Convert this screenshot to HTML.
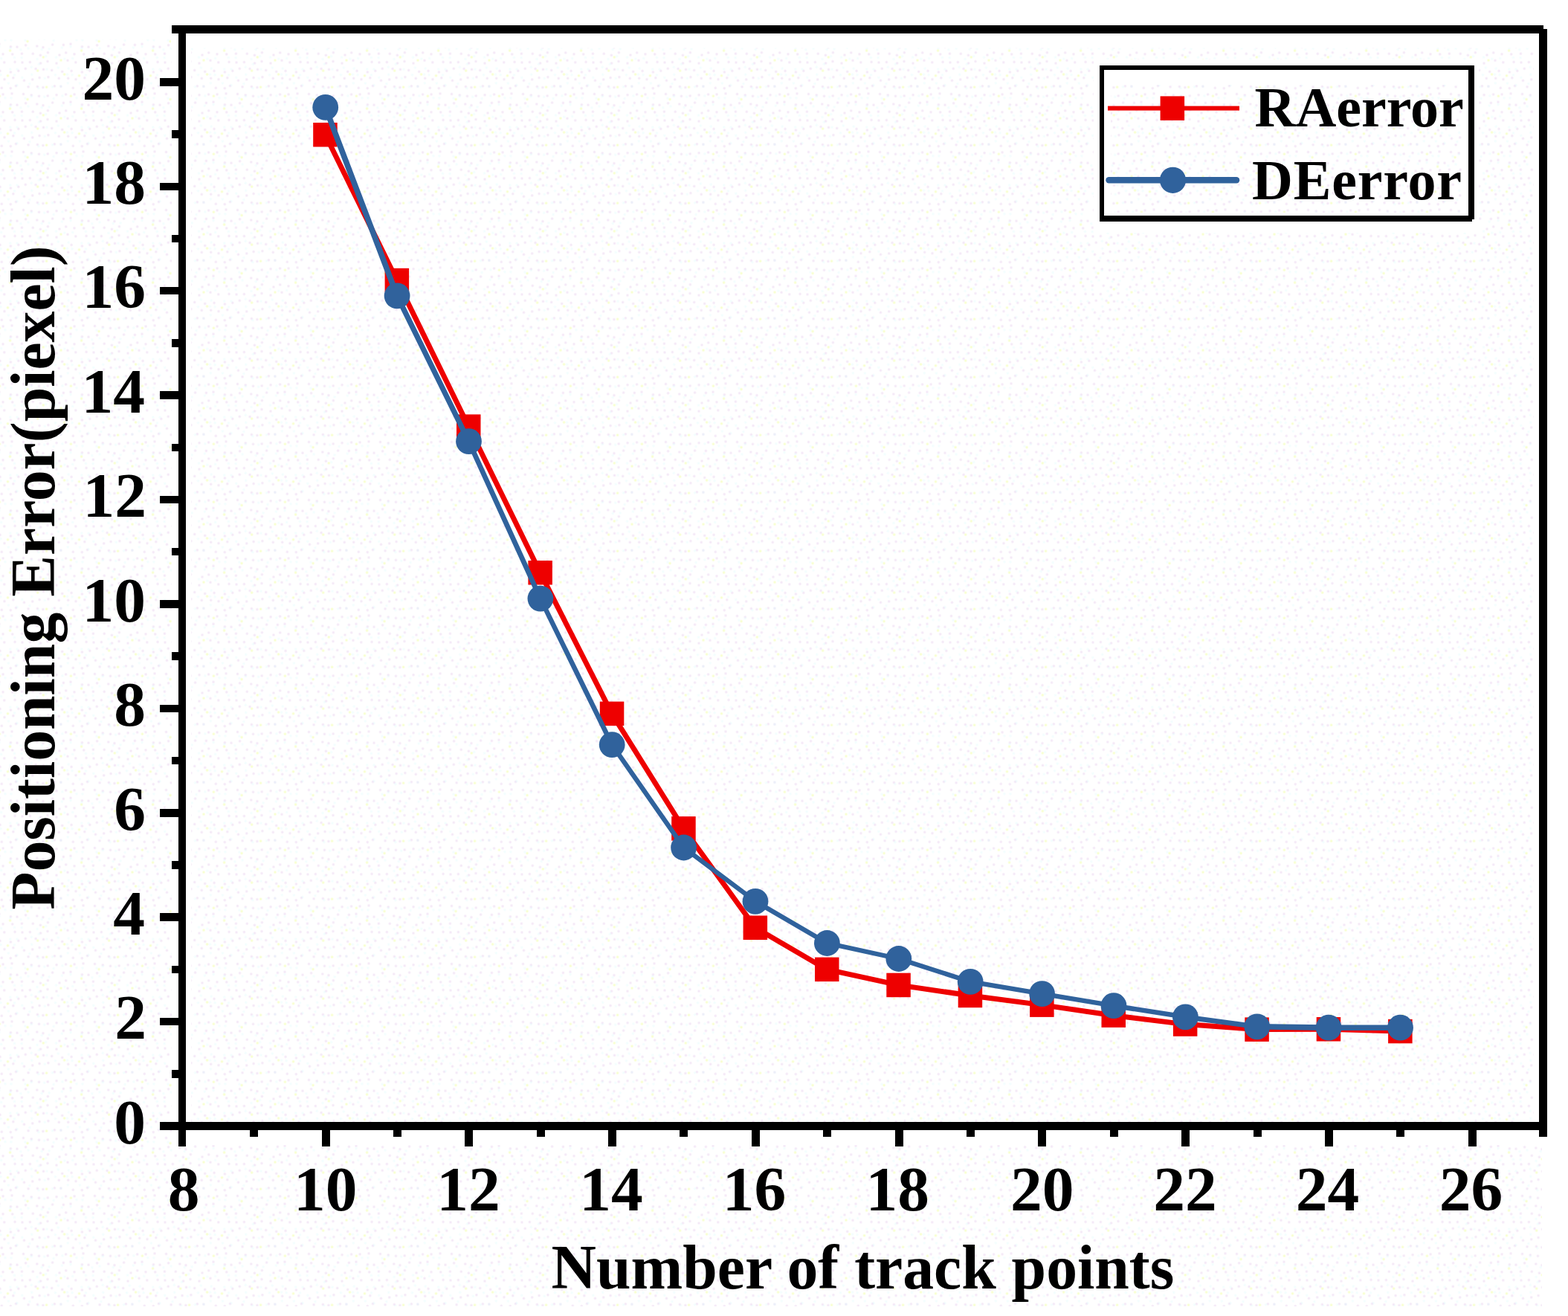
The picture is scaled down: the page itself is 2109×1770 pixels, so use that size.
<!DOCTYPE html>
<html lang="en"><head><meta charset="utf-8"><title>Positioning Error vs Number of track points</title>
<style>html,body{margin:0;padding:0;background:#fff;}body{width:2109px;height:1770px;overflow:hidden;}svg{display:block;}text{font-family:'Liberation Serif', 'DejaVu Serif', serif;font-weight:bold;fill:#000;}</style>
</head><body>
<svg width="2109" height="1770" viewBox="0 0 2109 1770">
<defs>
<radialGradient id="gm"><stop offset="0" stop-color="#e3c6ea" stop-opacity="0.5"/><stop offset="0.45" stop-color="#e3c6ea" stop-opacity="0.275"/><stop offset="1" stop-color="#e3c6ea" stop-opacity="0"/></radialGradient>
<radialGradient id="gc"><stop offset="0" stop-color="#d8fbfc" stop-opacity="0.38"/><stop offset="0.45" stop-color="#d8fbfc" stop-opacity="0.20900000000000002"/><stop offset="1" stop-color="#d8fbfc" stop-opacity="0"/></radialGradient>
<radialGradient id="gy"><stop offset="0" stop-color="#e9ff6a" stop-opacity="0.4"/><stop offset="0.45" stop-color="#e9ff6a" stop-opacity="0.22000000000000003"/><stop offset="1" stop-color="#e9ff6a" stop-opacity="0"/></radialGradient>
<pattern id="dots" width="96" height="78" patternUnits="userSpaceOnUse">
<rect width="96" height="78" fill="#fff"/>
<circle cx="5.8" cy="5.9" r="2.6" fill="url(#gm)"/>
<circle cx="20.1" cy="5.4" r="2.6" fill="url(#gm)"/>
<circle cx="30.0" cy="6.0" r="2.6" fill="url(#gm)"/>
<circle cx="40.4" cy="5.6" r="2.6" fill="url(#gm)"/>
<circle cx="54.6" cy="7.0" r="2.6" fill="url(#gm)"/>
<circle cx="64.0" cy="4.6" r="2.6" fill="url(#gm)"/>
<circle cx="76.0" cy="7.1" r="2.6" fill="url(#gm)"/>
<circle cx="91.0" cy="3.3" r="2.6" fill="url(#gm)"/>
<circle cx="14.4" cy="19.0" r="2.6" fill="url(#gm)"/>
<circle cx="24.8" cy="17.3" r="2.6" fill="url(#gm)"/>
<circle cx="34.3" cy="14.3" r="2.6" fill="url(#gm)"/>
<circle cx="48.1" cy="14.5" r="2.6" fill="url(#gm)"/>
<circle cx="58.5" cy="15.4" r="2.6" fill="url(#gm)"/>
<circle cx="69.7" cy="16.5" r="2.6" fill="url(#gm)"/>
<circle cx="83.7" cy="18.4" r="2.6" fill="url(#gm)"/>
<circle cx="0.1" cy="17.4" r="2.6" fill="url(#gm)"/>
<circle cx="96.1" cy="17.4" r="2.6" fill="url(#gm)"/>
<circle cx="6.0" cy="28.7" r="2.6" fill="url(#gm)"/>
<circle cx="17.8" cy="26.7" r="2.6" fill="url(#gm)"/>
<circle cx="32.5" cy="30.3" r="2.6" fill="url(#gm)"/>
<circle cx="43.7" cy="28.9" r="2.6" fill="url(#gm)"/>
<circle cx="53.1" cy="26.5" r="2.6" fill="url(#gm)"/>
<circle cx="64.9" cy="25.7" r="2.6" fill="url(#gm)"/>
<circle cx="79.3" cy="27.4" r="2.6" fill="url(#gm)"/>
<circle cx="91.7" cy="27.3" r="2.6" fill="url(#gm)"/>
<circle cx="14.3" cy="40.7" r="2.6" fill="url(#gm)"/>
<circle cx="21.5" cy="37.5" r="2.6" fill="url(#gm)"/>
<circle cx="38.1" cy="38.8" r="2.6" fill="url(#gm)"/>
<circle cx="50.4" cy="38.5" r="2.6" fill="url(#gm)"/>
<circle cx="57.9" cy="39.6" r="2.6" fill="url(#gm)"/>
<circle cx="73.4" cy="37.8" r="2.6" fill="url(#gm)"/>
<circle cx="81.9" cy="38.2" r="2.6" fill="url(#gm)"/>
<circle cx="2.3" cy="40.3" r="2.6" fill="url(#gm)"/>
<circle cx="98.3" cy="40.3" r="2.6" fill="url(#gm)"/>
<circle cx="4.1" cy="48.9" r="2.6" fill="url(#gm)"/>
<circle cx="16.0" cy="47.9" r="2.6" fill="url(#gm)"/>
<circle cx="31.5" cy="48.5" r="2.6" fill="url(#gm)"/>
<circle cx="42.3" cy="49.9" r="2.6" fill="url(#gm)"/>
<circle cx="52.5" cy="51.3" r="2.6" fill="url(#gm)"/>
<circle cx="64.2" cy="50.9" r="2.6" fill="url(#gm)"/>
<circle cx="76.1" cy="49.7" r="2.6" fill="url(#gm)"/>
<circle cx="88.6" cy="49.0" r="2.6" fill="url(#gm)"/>
<circle cx="14.4" cy="62.8" r="2.6" fill="url(#gm)"/>
<circle cx="23.0" cy="63.2" r="2.6" fill="url(#gm)"/>
<circle cx="34.6" cy="60.8" r="2.6" fill="url(#gm)"/>
<circle cx="49.8" cy="62.0" r="2.6" fill="url(#gm)"/>
<circle cx="58.0" cy="63.7" r="2.6" fill="url(#gm)"/>
<circle cx="70.6" cy="60.1" r="2.6" fill="url(#gm)"/>
<circle cx="85.4" cy="60.4" r="2.6" fill="url(#gm)"/>
<circle cx="-1.0" cy="59.2" r="2.6" fill="url(#gm)"/>
<circle cx="95.0" cy="59.2" r="2.6" fill="url(#gm)"/>
<circle cx="4.0" cy="72.8" r="2.6" fill="url(#gm)"/>
<circle cx="16.7" cy="72.9" r="2.6" fill="url(#gm)"/>
<circle cx="29.4" cy="72.2" r="2.6" fill="url(#gm)"/>
<circle cx="44.3" cy="72.3" r="2.6" fill="url(#gm)"/>
<circle cx="54.4" cy="74.3" r="2.6" fill="url(#gm)"/>
<circle cx="64.4" cy="70.7" r="2.6" fill="url(#gm)"/>
<circle cx="80.0" cy="74.0" r="2.6" fill="url(#gm)"/>
<circle cx="88.7" cy="70.9" r="2.6" fill="url(#gm)"/>
<circle cx="13.8" cy="15.0" r="2.6" fill="url(#gc)"/>
<circle cx="23.1" cy="15.1" r="2.6" fill="url(#gc)"/>
<circle cx="42.3" cy="12.3" r="2.6" fill="url(#gc)"/>
<circle cx="52.4" cy="8.3" r="2.6" fill="url(#gc)"/>
<circle cx="63.0" cy="15.2" r="2.6" fill="url(#gc)"/>
<circle cx="78.3" cy="13.1" r="2.6" fill="url(#gc)"/>
<circle cx="92.2" cy="14.1" r="2.6" fill="url(#gc)"/>
<circle cx="19.5" cy="22.8" r="2.6" fill="url(#gc)"/>
<circle cx="29.8" cy="26.3" r="2.6" fill="url(#gc)"/>
<circle cx="42.7" cy="22.3" r="2.6" fill="url(#gc)"/>
<circle cx="60.3" cy="27.3" r="2.6" fill="url(#gc)"/>
<circle cx="74.5" cy="22.7" r="2.6" fill="url(#gc)"/>
<circle cx="90.6" cy="22.1" r="2.6" fill="url(#gc)"/>
<circle cx="1.1" cy="22.7" r="2.6" fill="url(#gc)"/>
<circle cx="97.1" cy="22.7" r="2.6" fill="url(#gc)"/>
<circle cx="11.4" cy="34.0" r="2.6" fill="url(#gc)"/>
<circle cx="23.0" cy="36.5" r="2.6" fill="url(#gc)"/>
<circle cx="39.9" cy="34.6" r="2.6" fill="url(#gc)"/>
<circle cx="51.9" cy="40.6" r="2.6" fill="url(#gc)"/>
<circle cx="70.6" cy="38.8" r="2.6" fill="url(#gc)"/>
<circle cx="82.0" cy="38.2" r="2.6" fill="url(#gc)"/>
<circle cx="91.3" cy="33.8" r="2.6" fill="url(#gc)"/>
<circle cx="14.9" cy="53.8" r="2.6" fill="url(#gc)"/>
<circle cx="34.0" cy="54.2" r="2.6" fill="url(#gc)"/>
<circle cx="42.3" cy="51.6" r="2.6" fill="url(#gc)"/>
<circle cx="59.7" cy="52.3" r="2.6" fill="url(#gc)"/>
<circle cx="72.1" cy="54.5" r="2.6" fill="url(#gc)"/>
<circle cx="83.9" cy="50.9" r="2.6" fill="url(#gc)"/>
<circle cx="6.9" cy="53.7" r="2.6" fill="url(#gc)"/>
<circle cx="13.8" cy="65.1" r="2.6" fill="url(#gc)"/>
<circle cx="27.9" cy="66.8" r="2.6" fill="url(#gc)"/>
<circle cx="38.1" cy="65.0" r="2.6" fill="url(#gc)"/>
<circle cx="56.2" cy="66.5" r="2.6" fill="url(#gc)"/>
<circle cx="66.1" cy="65.8" r="2.6" fill="url(#gc)"/>
<circle cx="83.3" cy="64.1" r="2.6" fill="url(#gc)"/>
<circle cx="-0.9" cy="62.6" r="2.6" fill="url(#gc)"/>
<circle cx="95.1" cy="62.6" r="2.6" fill="url(#gc)"/>
<circle cx="19.4" cy="-0.6" r="2.6" fill="url(#gc)"/>
<circle cx="19.4" cy="77.4" r="2.6" fill="url(#gc)"/>
<circle cx="29.1" cy="-0.4" r="2.6" fill="url(#gc)"/>
<circle cx="29.1" cy="77.6" r="2.6" fill="url(#gc)"/>
<circle cx="50.1" cy="1.5" r="2.6" fill="url(#gc)"/>
<circle cx="50.1" cy="79.5" r="2.6" fill="url(#gc)"/>
<circle cx="61.7" cy="-2.4" r="2.6" fill="url(#gc)"/>
<circle cx="61.7" cy="75.6" r="2.6" fill="url(#gc)"/>
<circle cx="75.5" cy="-0.9" r="2.6" fill="url(#gc)"/>
<circle cx="75.5" cy="77.1" r="2.6" fill="url(#gc)"/>
<circle cx="86.8" cy="1.2" r="2.6" fill="url(#gc)"/>
<circle cx="86.8" cy="79.2" r="2.6" fill="url(#gc)"/>
<circle cx="1.7" cy="0.5" r="2.6" fill="url(#gc)"/>
<circle cx="1.7" cy="78.5" r="2.6" fill="url(#gc)"/>
<circle cx="97.7" cy="0.5" r="2.6" fill="url(#gc)"/>
<circle cx="97.7" cy="78.5" r="2.6" fill="url(#gc)"/>
<circle cx="10.5" cy="23.8" r="2.6" fill="url(#gy)"/>
<circle cx="50.7" cy="17.1" r="2.6" fill="url(#gy)"/>
<circle cx="86.6" cy="22.0" r="2.6" fill="url(#gy)"/>
<circle cx="37.1" cy="55.6" r="2.6" fill="url(#gy)"/>
<circle cx="62.6" cy="39.2" r="2.6" fill="url(#gy)"/>
<circle cx="-0.6" cy="51.2" r="2.6" fill="url(#gy)"/>
<circle cx="95.4" cy="51.2" r="2.6" fill="url(#gy)"/>
<circle cx="13.6" cy="68.1" r="2.6" fill="url(#gy)"/>
<circle cx="58.3" cy="-1.1" r="2.6" fill="url(#gy)"/>
<circle cx="58.3" cy="76.9" r="2.6" fill="url(#gy)"/>
<circle cx="82.0" cy="3.1" r="2.6" fill="url(#gy)"/>
</pattern></defs>
<rect x="0" y="0" width="2109" height="1770" fill="#fff"/>
<rect x="0" y="53" width="2074" height="1704" fill="url(#dots)"/>
<g fill="#fff">
<rect x="230" y="45" width="1844" height="19.5"/>
<rect x="231" y="64" width="26" height="1476"/>
<rect x="2063" y="45" width="11" height="1495"/>
<rect x="231" y="1520" width="1843" height="20"/>
<rect x="1471" y="80" width="518" height="233"/>
</g>
<rect x="1494" y="114" width="472" height="172" fill="url(#dots)"/>
<g fill="#000" shape-rendering="crispEdges">
<rect x="231" y="34" width="1845" height="11"/>
<rect x="2070" y="39" width="11" height="1489.5"/>
<rect x="240" y="34" width="10" height="1508"/>
<rect x="215" y="1509" width="1866" height="11"/>
<rect x="336.1" y="1515" width="11" height="13.5"/>
<rect x="432.5" y="1515" width="11" height="27"/>
<rect x="528.9" y="1515" width="11" height="13.5"/>
<rect x="625.3" y="1515" width="11" height="27"/>
<rect x="721.6" y="1515" width="11" height="13.5"/>
<rect x="818.0" y="1515" width="11" height="27"/>
<rect x="914.4" y="1515" width="11" height="13.5"/>
<rect x="1010.8" y="1515" width="11" height="27"/>
<rect x="1107.2" y="1515" width="11" height="13.5"/>
<rect x="1203.6" y="1515" width="11" height="27"/>
<rect x="1300.0" y="1515" width="11" height="13.5"/>
<rect x="1396.4" y="1515" width="11" height="27"/>
<rect x="1492.8" y="1515" width="11" height="13.5"/>
<rect x="1589.2" y="1515" width="11" height="27"/>
<rect x="1685.5" y="1515" width="11" height="13.5"/>
<rect x="1781.9" y="1515" width="11" height="27"/>
<rect x="1878.3" y="1515" width="11" height="13.5"/>
<rect x="1974.7" y="1515" width="11" height="27"/>
<rect x="231" y="1439.0" width="14" height="10.5"/>
<rect x="215" y="1368.8" width="30" height="10.5"/>
<rect x="231" y="1298.6" width="14" height="10.5"/>
<rect x="215" y="1228.4" width="30" height="10.5"/>
<rect x="231" y="1158.2" width="14" height="10.5"/>
<rect x="215" y="1088.0" width="30" height="10.5"/>
<rect x="231" y="1017.8" width="14" height="10.5"/>
<rect x="215" y="947.6" width="30" height="10.5"/>
<rect x="231" y="877.4" width="14" height="10.5"/>
<rect x="215" y="807.2" width="30" height="10.5"/>
<rect x="231" y="736.9" width="14" height="10.5"/>
<rect x="215" y="666.7" width="30" height="10.5"/>
<rect x="231" y="596.5" width="14" height="10.5"/>
<rect x="215" y="526.3" width="30" height="10.5"/>
<rect x="231" y="456.1" width="14" height="10.5"/>
<rect x="215" y="385.9" width="30" height="10.5"/>
<rect x="231" y="315.7" width="14" height="10.5"/>
<rect x="215" y="245.5" width="30" height="10.5"/>
<rect x="231" y="175.3" width="14" height="10.5"/>
<rect x="215" y="105.1" width="30" height="10.5"/>
</g>
<g font-size="85.5" text-anchor="middle">
<text x="247.24" y="1628">8</text>
<text x="437.66" y="1628">10</text>
<text x="630.06" y="1628">12</text>
<text x="821.98" y="1628">14</text>
<text x="1014.38" y="1628">16</text>
<text x="1207.30" y="1628">18</text>
<text x="1401.71" y="1628">20</text>
<text x="1594.12" y="1628">22</text>
<text x="1785.52" y="1628">24</text>
<text x="1978.44" y="1628">26</text>
</g>
<g font-size="85.5" text-anchor="end">
<text x="196.10" y="1537.8">0</text>
<text x="197.10" y="1397.4">2</text>
<text x="195.10" y="1257.0">4</text>
<text x="196.10" y="1116.5">6</text>
<text x="196.10" y="976.1">8</text>
<text x="196.10" y="835.7">10</text>
<text x="197.10" y="695.3">12</text>
<text x="195.10" y="554.9">14</text>
<text x="196.10" y="414.4">16</text>
<text x="196.10" y="274.0">18</text>
<text x="196.10" y="133.6">20</text>
</g>
<text x="1160.4" y="1732.5" font-size="83.7" text-anchor="middle">Number of track points</text>
<text transform="translate(73,777) rotate(-90)" font-size="83.7" text-anchor="middle">Positioning Error(piexel)</text>
<polyline points="437.5,181.2 533.9,377.1 630.3,573.7 726.6,770.3 823.0,959.8 919.4,1114.3 1015.8,1247.7 1112.2,1303.9 1208.6,1324.9 1305.0,1339.0 1401.4,1351.6 1497.8,1365.7 1594.2,1377.6 1690.5,1384.6 1786.9,1384.3 1883.3,1387.1" fill="none" stroke="#ee0000" stroke-width="7" stroke-linejoin="round"/>
<rect x="421.2" y="165.0" width="32.5" height="32.5" fill="#ee0000"/>
<rect x="517.6" y="360.8" width="32.5" height="32.5" fill="#ee0000"/>
<rect x="614.0" y="557.4" width="32.5" height="32.5" fill="#ee0000"/>
<rect x="710.4" y="754.0" width="32.5" height="32.5" fill="#ee0000"/>
<rect x="806.8" y="943.6" width="32.5" height="32.5" fill="#ee0000"/>
<rect x="903.2" y="1098.1" width="32.5" height="32.5" fill="#ee0000"/>
<rect x="999.6" y="1231.5" width="32.5" height="32.5" fill="#ee0000"/>
<rect x="1096.0" y="1287.6" width="32.5" height="32.5" fill="#ee0000"/>
<rect x="1192.3" y="1308.7" width="32.5" height="32.5" fill="#ee0000"/>
<rect x="1288.7" y="1322.7" width="32.5" height="32.5" fill="#ee0000"/>
<rect x="1385.1" y="1335.4" width="32.5" height="32.5" fill="#ee0000"/>
<rect x="1481.5" y="1349.4" width="32.5" height="32.5" fill="#ee0000"/>
<rect x="1577.9" y="1361.3" width="32.5" height="32.5" fill="#ee0000"/>
<rect x="1674.3" y="1368.4" width="32.5" height="32.5" fill="#ee0000"/>
<rect x="1770.7" y="1368.0" width="32.5" height="32.5" fill="#ee0000"/>
<rect x="1867.1" y="1370.8" width="32.5" height="32.5" fill="#ee0000"/>
<g stroke="#30629c" stroke-linecap="round" fill="none">
<line x1="437.7" y1="144.4" x2="534.1" y2="397.9" stroke-width="7.6"/>
<line x1="534.1" y1="397.9" x2="630.5" y2="593.7" stroke-width="7.2"/>
<line x1="630.5" y1="593.7" x2="726.9" y2="805.1" stroke-width="6.8"/>
<line x1="726.9" y1="805.1" x2="823.2" y2="1001.7" stroke-width="6.5"/>
<line x1="823.2" y1="1001.7" x2="919.6" y2="1140.0" stroke-width="6.4"/>
<line x1="919.6" y1="1140.0" x2="1016.0" y2="1212.3" stroke-width="6.2"/>
<line x1="1016.0" y1="1212.3" x2="1112.4" y2="1268.5" stroke-width="6.3"/>
<line x1="1112.4" y1="1268.5" x2="1208.8" y2="1289.5" stroke-width="6.3"/>
<line x1="1208.8" y1="1289.5" x2="1305.2" y2="1320.4" stroke-width="6.3"/>
<line x1="1305.2" y1="1320.4" x2="1401.6" y2="1336.6" stroke-width="6.3"/>
<line x1="1401.6" y1="1336.6" x2="1498.0" y2="1352.7" stroke-width="6.4"/>
<line x1="1498.0" y1="1352.7" x2="1594.4" y2="1367.8" stroke-width="6.6"/>
<line x1="1594.4" y1="1367.8" x2="1690.8" y2="1380.8" stroke-width="6.8"/>
<line x1="1690.8" y1="1380.8" x2="1787.1" y2="1382.2" stroke-width="7.6"/>
<line x1="1787.1" y1="1382.2" x2="1883.5" y2="1382.2" stroke-width="7.6"/>
</g>
<circle cx="437.7" cy="144.4" r="17.4" fill="#30629c"/>
<circle cx="534.1" cy="397.9" r="17.4" fill="#30629c"/>
<circle cx="630.5" cy="593.7" r="17.4" fill="#30629c"/>
<circle cx="726.9" cy="805.1" r="17.4" fill="#30629c"/>
<circle cx="823.2" cy="1001.7" r="17.4" fill="#30629c"/>
<circle cx="919.6" cy="1140.0" r="17.4" fill="#30629c"/>
<circle cx="1016.0" cy="1212.3" r="17.4" fill="#30629c"/>
<circle cx="1112.4" cy="1268.5" r="17.4" fill="#30629c"/>
<circle cx="1208.8" cy="1289.5" r="17.4" fill="#30629c"/>
<circle cx="1305.2" cy="1320.4" r="17.4" fill="#30629c"/>
<circle cx="1401.6" cy="1336.6" r="17.4" fill="#30629c"/>
<circle cx="1498.0" cy="1352.7" r="17.4" fill="#30629c"/>
<circle cx="1594.4" cy="1367.8" r="17.4" fill="#30629c"/>
<circle cx="1690.8" cy="1380.8" r="17.4" fill="#30629c"/>
<circle cx="1787.1" cy="1382.2" r="17.4" fill="#30629c"/>
<circle cx="1883.5" cy="1382.2" r="17.4" fill="#30629c"/>
<g fill="#000" shape-rendering="crispEdges">
<rect x="1478.8" y="88.3" width="504.6" height="6"/>
<rect x="1478.8" y="289.9" width="501.6" height="8.4"/>
<rect x="1478.8" y="88.3" width="6.6" height="210"/>
<rect x="1975" y="88.3" width="8.4" height="207.1"/>
</g>
<rect x="1490" y="142.6" width="177" height="6" fill="#ee0000"/>
<rect x="1560.6" y="129.4" width="32.5" height="32.5" fill="#ee0000"/>
<line x1="1491.5" y1="242.3" x2="1663" y2="242.3" stroke="#30629c" stroke-width="8.5" stroke-linecap="round"/>
<circle cx="1577.5" cy="242.3" r="17.6" fill="#30629c"/>
<text x="1687.5" y="170" font-size="76">RAerror</text>
<text x="1684" y="267.8" font-size="76" letter-spacing="0.8">DEerror</text>
</svg></body></html>
